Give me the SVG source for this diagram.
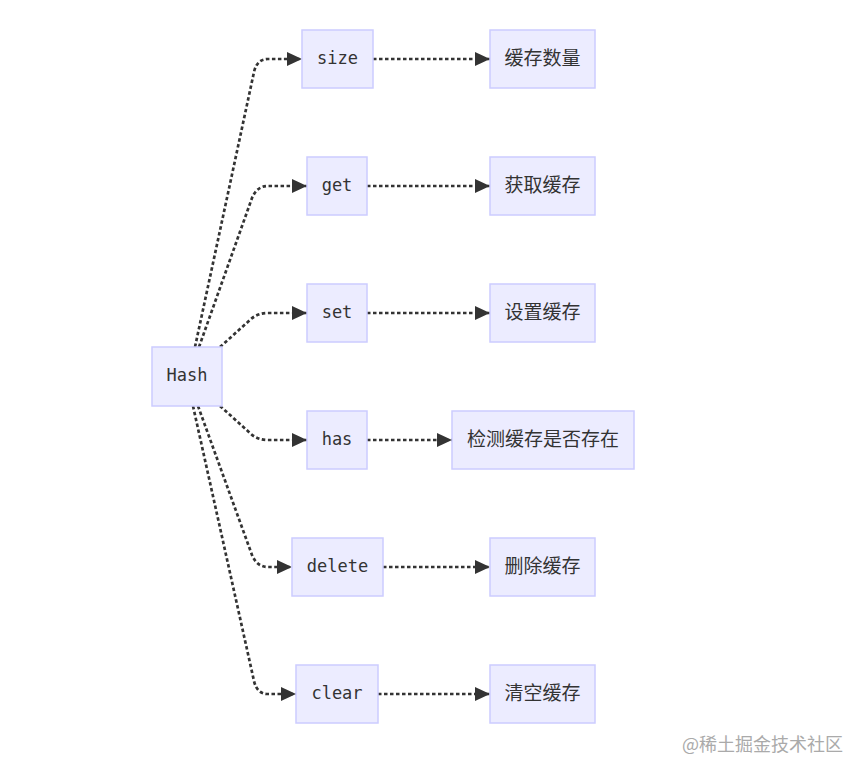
<svg xmlns="http://www.w3.org/2000/svg" width="865" height="777" viewBox="0 0 865 777">
<style>
.n rect{fill:#ECECFF;stroke:#CCCCFF;stroke-width:1.5}
.m{font-family:"DejaVu Sans Mono","Liberation Mono",monospace;font-size:17px;fill:#333;text-anchor:middle;dominant-baseline:central}
.c{font-family:"Noto Sans CJK SC","Noto Sans",sans-serif;font-size:19px;fill:#333;text-anchor:middle;dominant-baseline:central}
.e path{fill:none;stroke:#333;stroke-width:2.7;stroke-dasharray:3.5 2.5;marker-end:url(#ah)}
</style>
<defs>
<marker id="ah" markerUnits="userSpaceOnUse" viewBox="0 0 15 14" markerWidth="15" markerHeight="14" refX="15" refY="7" orient="auto">
<path d="M0,0 L15,7 L0,14 z" fill="#333"/>
</marker>
</defs>
<rect width="865" height="777" fill="#fff"/>
<g id="connectors" class="e">
<path d="M195,347 L254,72 Q257,59 268,59 L302,59"/>
<path d="M199,347 L252,198 Q257,186 268,186 L307,186"/>
<path d="M220,347 L250,320 Q257,313 268,313 L307,313"/>
<path d="M220,406 L250,433 Q257,440 268,440 L307,440"/>
<path d="M198,406 L252,555 Q257,567 268,567 L292,567"/>
<path d="M193,406 L254,681 Q257,694 268,694 L296,694"/>
<path d="M373,59 L490,59"/>
<path d="M367,186 L490,186"/>
<path d="M367,313 L490,313"/>
<path d="M367,440 L452,440"/>
<path d="M383,567 L490,567"/>
<path d="M378,694 L490,694"/>
</g>
<g id="hash" class="n"><rect x="152" y="347" width="70" height="59"/><text class="m" x="187" y="374.5">Hash</text></g>
<g id="size" class="n"><rect x="302" y="30" width="71" height="58"/><text class="m" x="337.5" y="57.5">size</text></g>
<g id="get" class="n"><rect x="307" y="157" width="60" height="58"/><text class="m" x="337" y="184.5">get</text></g>
<g id="set" class="n"><rect x="307" y="284" width="60" height="58"/><text class="m" x="337" y="311.5">set</text></g>
<g id="has" class="n"><rect x="307" y="411" width="60" height="58"/><text class="m" x="337" y="438.5">has</text></g>
<g id="delete" class="n"><rect x="292" y="538" width="91" height="58"/><text class="m" x="337.5" y="565.5">delete</text></g>
<g id="clear" class="n"><rect x="296" y="665" width="82" height="58"/><text class="m" x="337" y="692.5">clear</text></g>
<g id="size_desc" class="n"><rect x="490" y="30" width="105" height="58"/><text class="c" x="542.5" y="56">缓存数量</text></g>
<g id="get_desc" class="n"><rect x="490" y="157" width="105" height="58"/><text class="c" x="542.5" y="183">获取缓存</text></g>
<g id="set_desc" class="n"><rect x="490" y="284" width="105" height="58"/><text class="c" x="542.5" y="310">设置缓存</text></g>
<g id="has_desc" class="n"><rect x="452" y="411" width="182" height="58"/><text class="c" x="543" y="437">检测缓存是否存在</text></g>
<g id="delete_desc" class="n"><rect x="490" y="538" width="105" height="58"/><text class="c" x="542.5" y="564">删除缓存</text></g>
<g id="clear_desc" class="n"><rect x="490" y="665" width="105" height="58"/><text class="c" x="542.5" y="691">清空缓存</text></g>
<text x="843" y="743" font-family="Noto Sans CJK SC, Noto Sans, sans-serif" font-size="18" fill="#aaa" text-anchor="end" dominant-baseline="central">@稀土掘金技术社区</text>
</svg>
